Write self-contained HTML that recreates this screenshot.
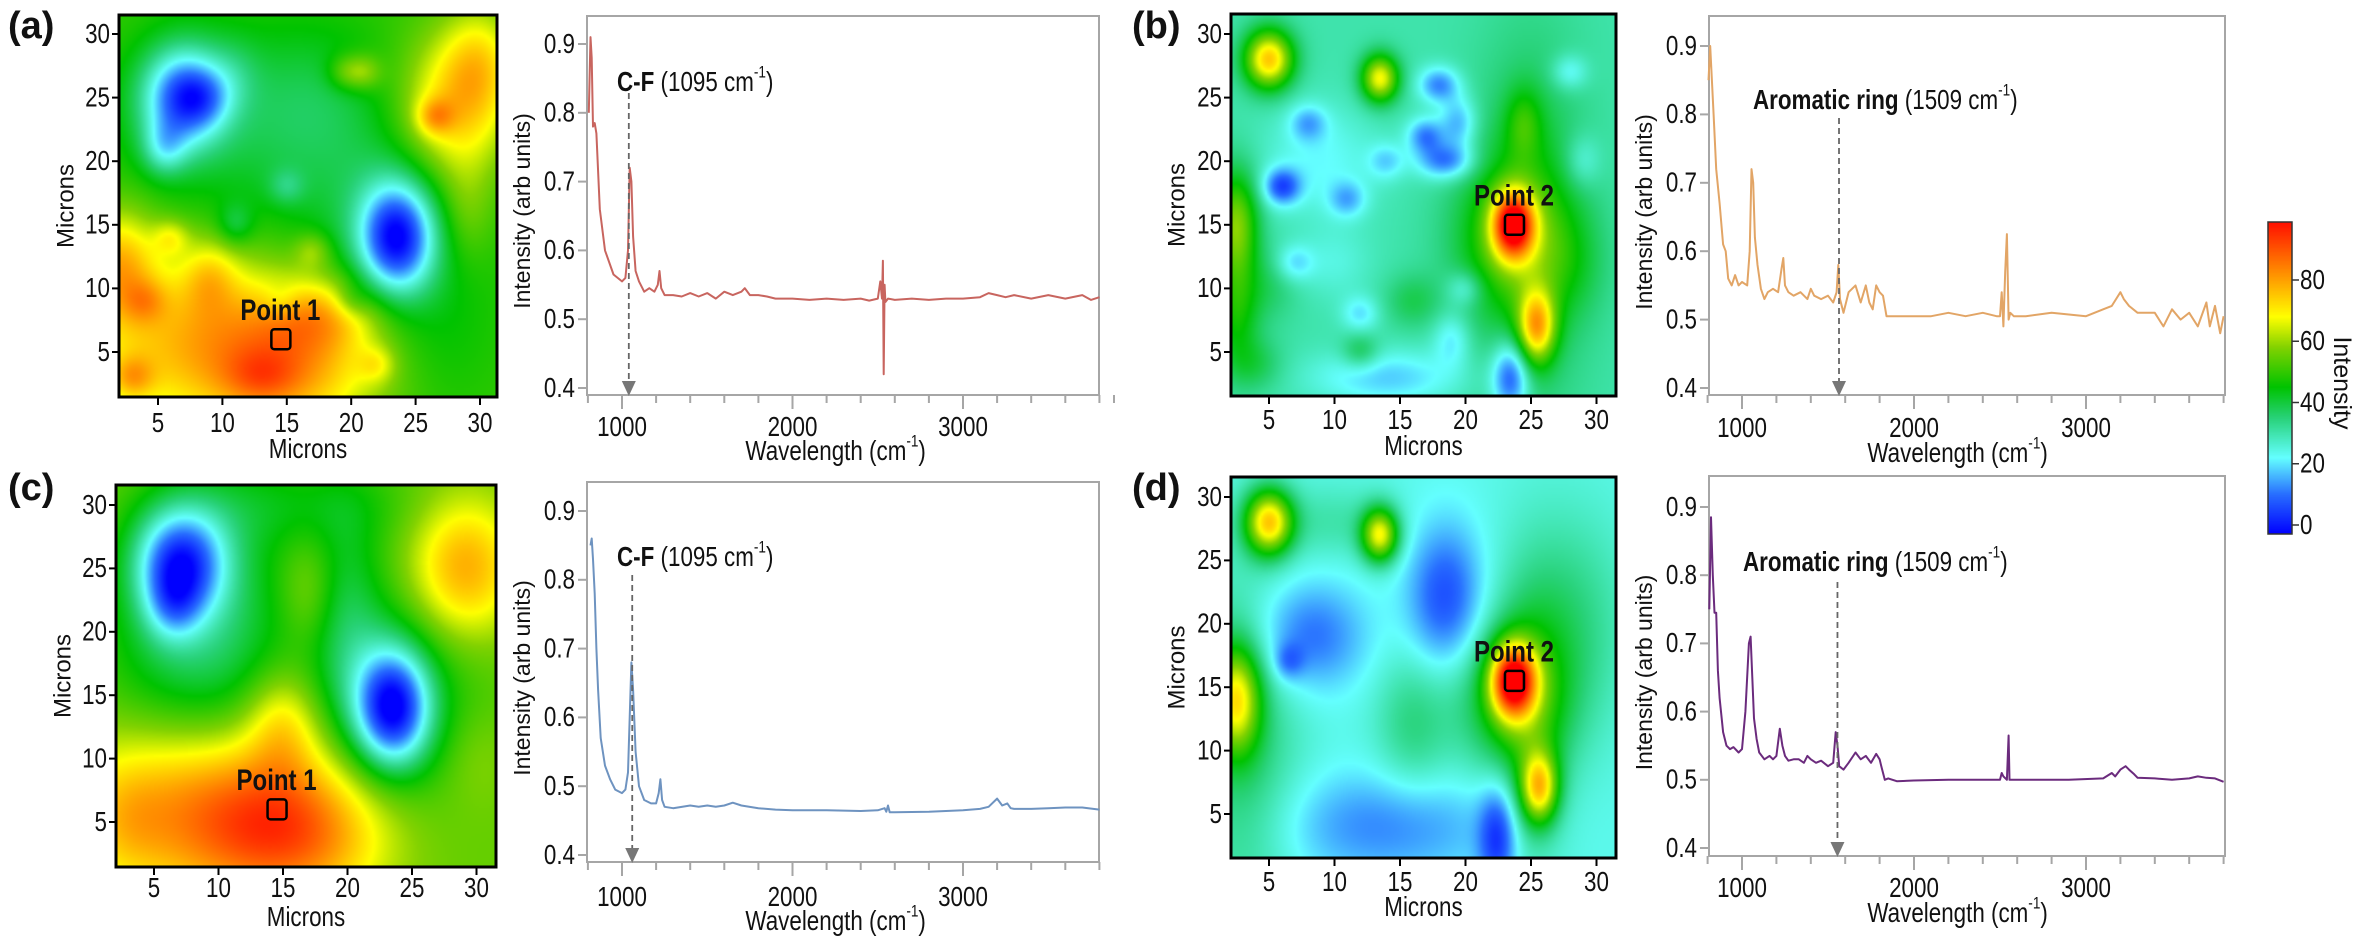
<!DOCTYPE html>
<html><head><meta charset="utf-8">
<style>
html,body{margin:0;padding:0;background:#fff;}
#root{position:relative;width:2361px;height:943px;overflow:hidden;background:#fff;}
canvas{position:absolute;}
svg{position:absolute;left:0;top:0;}
.n{font-family:"Liberation Sans",Arial,sans-serif;}
.r{font-family:"Liberation Sans",Arial,sans-serif;}
</style></head>
<body>
<div id="root">
<canvas id="hmA"></canvas>
<canvas id="hmB"></canvas>
<canvas id="hmC"></canvas>
<canvas id="hmD"></canvas>
<canvas id="cbar"></canvas>
<svg id="ov" width="2361" height="943"></svg>
</div>
<script>
// ---------- spectra data ----------
const wnA=[805,815,822,830,840,850,870,900,950,1000,1020,1035,1045,1055,1065,1080,1100,1130,1160,1190,1210,1220,1230,1250,1300,1350,1400,1450,1500,1550,1600,1650,1700,1720,1750,1800,1850,1900,2000,2100,2200,2300,2400,2450,2500,2515,2525,2530,2535,2540,2545,2560,2600,2700,2800,2900,3000,3100,3150,3200,3250,3300,3400,3500,3600,3700,3750,3800];
const valA=[0.80,0.91,0.88,0.78,0.785,0.77,0.66,0.6,0.565,0.555,0.56,0.6,0.72,0.70,0.62,0.57,0.555,0.54,0.545,0.54,0.55,0.57,0.545,0.535,0.535,0.533,0.538,0.533,0.538,0.53,0.54,0.535,0.54,0.545,0.535,0.535,0.533,0.53,0.53,0.528,0.53,0.528,0.53,0.527,0.53,0.555,0.53,0.585,0.42,0.55,0.525,0.53,0.528,0.53,0.528,0.53,0.53,0.532,0.538,0.535,0.532,0.535,0.53,0.535,0.53,0.535,0.528,0.532];
const wnB=[805,815,825,835,850,870,890,905,920,940,960,980,1000,1030,1045,1055,1065,1075,1090,1110,1130,1150,1180,1210,1230,1240,1250,1270,1300,1340,1380,1400,1420,1460,1500,1530,1550,1560,1570,1590,1620,1660,1690,1720,1740,1760,1780,1800,1820,1840,1900,2000,2100,2200,2300,2400,2480,2500,2510,2520,2530,2540,2550,2560,2580,2650,2800,3000,3100,3150,3200,3220,3250,3300,3400,3450,3500,3550,3600,3650,3700,3720,3750,3780,3800];
const valB=[0.85,0.90,0.85,0.80,0.72,0.67,0.61,0.6,0.56,0.55,0.565,0.55,0.555,0.55,0.6,0.72,0.70,0.62,0.58,0.545,0.53,0.54,0.545,0.54,0.575,0.59,0.55,0.54,0.535,0.54,0.53,0.545,0.535,0.53,0.535,0.525,0.54,0.58,0.53,0.51,0.54,0.55,0.525,0.55,0.525,0.515,0.55,0.54,0.535,0.505,0.505,0.505,0.505,0.51,0.505,0.51,0.505,0.505,0.54,0.49,0.57,0.625,0.5,0.51,0.505,0.505,0.51,0.505,0.515,0.52,0.54,0.53,0.52,0.51,0.51,0.49,0.515,0.5,0.51,0.49,0.525,0.49,0.52,0.48,0.505];
const wnC=[815,822,830,840,850,860,875,900,930,960,1000,1020,1035,1045,1055,1065,1080,1100,1130,1170,1200,1215,1225,1235,1250,1300,1400,1450,1500,1550,1600,1650,1700,1800,1900,2000,2200,2400,2500,2540,2550,2560,2570,2600,2800,3000,3100,3150,3200,3230,3260,3280,3300,3400,3500,3600,3700,3800];
const valC=[0.85,0.86,0.83,0.78,0.70,0.64,0.57,0.53,0.51,0.495,0.49,0.495,0.52,0.6,0.68,0.64,0.55,0.5,0.48,0.475,0.475,0.49,0.51,0.48,0.47,0.468,0.472,0.47,0.472,0.47,0.472,0.476,0.472,0.468,0.466,0.465,0.465,0.464,0.465,0.468,0.463,0.472,0.462,0.462,0.463,0.465,0.467,0.47,0.482,0.472,0.475,0.468,0.467,0.467,0.468,0.469,0.469,0.466];
const wnD=[810,820,830,840,850,860,870,890,910,930,950,980,1000,1020,1040,1050,1060,1070,1085,1100,1130,1160,1180,1200,1220,1235,1250,1270,1300,1330,1360,1380,1400,1430,1460,1500,1530,1545,1555,1565,1590,1620,1660,1690,1720,1750,1780,1800,1810,1830,1850,1900,2000,2200,2400,2500,2510,2520,2540,2550,2555,2560,2580,2700,2900,3100,3150,3170,3200,3230,3250,3280,3300,3400,3500,3600,3650,3700,3750,3800];
const valD=[0.75,0.885,0.80,0.745,0.745,0.66,0.62,0.57,0.55,0.545,0.548,0.54,0.545,0.6,0.7,0.71,0.65,0.59,0.56,0.54,0.53,0.535,0.53,0.535,0.575,0.55,0.535,0.528,0.53,0.53,0.525,0.535,0.53,0.525,0.528,0.52,0.525,0.57,0.55,0.52,0.515,0.525,0.54,0.53,0.535,0.525,0.538,0.53,0.52,0.5,0.502,0.498,0.499,0.5,0.5,0.5,0.51,0.505,0.5,0.565,0.5,0.5,0.5,0.5,0.5,0.502,0.51,0.505,0.515,0.52,0.515,0.508,0.503,0.502,0.5,0.502,0.505,0.503,0.502,0.497];
const yTicks=[0.4,0.5,0.6,0.7,0.8,0.9];
const yTickLabels=["0.4","0.5","0.6","0.7","0.8","0.9"];
const xTicks=[1000,2000,3000];
const xTickLabels=["1000","2000","3000"];
const micTicks=[5,10,15,20,25,30];
const cbTicks=[0,20,40,60,80];
// heatmap blobs: [x, y, sx, sy, amplitude]
const blobsA=[[7,25,2.3,2.8,-40],[8.5,25,1.5,1.5,-10],[5.5,21,1.2,1.5,-15],[23.5,14,2,3,-45],[23,14,5,6.5,-10],[12,22,7,6,-8],[17,25,4,4,-6],[8,6,7,5,25],[16,4,5,4,22],[2,12,2,3,22],[18,8,3,2,15],[13,3,2,1.5,10],[28,24,3,4,25],[26.5,23.5,1,1,15],[30,28,2,3,15],[27,5,3,4,-3],[9,11,1.5,2,12],[4,9,1.2,1.2,10],[20,9,1,1,-8],[14.5,9,1,1,-6],[29,16,1.5,3,8],[19.5,27,1,1,10],[11,27,1.5,2,-5],[6,14,1,1,12],[11,15,1,1.2,-10],[15,18,1,1,-8],[21,27,1,1,12],[17,13,1,1,10],[3,3,1.2,1.2,15],[22,4,1,1,10]];
const blobsB=[[2.5,15,1.2,3,28],[2.5,8,1.2,3,15],[5,28,1.3,1.6,45],[13.5,26.5,1,1.3,38],[23.7,15,1.1,1.8,58],[23.5,14,3,4,18],[25.5,7,1,2,40],[25,15,3,10,12],[24.5,23,1,2,12],[6,18,1,1,-22],[18.5,20,1.5,1,-20],[18,26,1.1,1,-18],[17,22,1,1,-18],[19.5,23,1,1.5,-15],[23.5,3,1,2,-25],[9,20,3,3,-8],[14,3,4,1.5,-12],[10,12,2,2,-5],[4,4,1.5,1.5,8],[16,9,1.5,1.5,8],[28,12,2,3,6],[8,23,1,1,-12],[11,17,1,1,-12],[12,8,1,1,-10],[7,12,1,1,-10],[14,20,1,1,-10],[20,10,1,1,-10],[28,27,1,1,-10],[29,20,1,1.5,-8],[12,5,1,1,10],[19,6,1,1.5,-10],[5,10,1.5,2,6]];
const blobsC=[[7,25.5,2.5,3,-45],[6.5,22,1.5,2,-15],[23.5,14,2,3.2,-48],[23,14,5,7,-15],[10,20,4,8,-15],[5,18,4,5,-8],[16,30,7,2.5,-8],[20,22,2,6,-10],[10,6,8,5,30],[16,4,5,4,20],[15,13,2,3,15],[29,25,3,4,25],[30,10,2,3,5],[3,5,2,3,5],[17,23,1.5,3,8]];
const blobsD=[[2.5,14,1.3,3,38],[5,28,1.3,1.8,48],[13.5,27,1,1.5,42],[23.7,15.5,1.2,2,62],[23.5,14,3,4,20],[25.7,7,1,2,42],[25,12,2,8,12],[8,19,3,3,-15],[18.5,22,2,4,-18],[14,4,6,3,-12],[22.5,3,1,3,-20],[6.5,17,0.8,1,-10],[3,10,3,10,12],[16,12,2,4,10],[28,20,3,6,10],[10,28,3,2,6]];
const baseA=50, baseB=30, baseC=55, baseD=24;

// ---------- helpers ----------
const NS="http://www.w3.org/2000/svg";
const ov=document.getElementById('ov');
const SQ=0.8;
function mk(tag,attrs,parent){const e=document.createElementNS(NS,tag);for(const k in attrs)e.setAttribute(k,attrs[k]);(parent||ov).appendChild(e);return e;}
function txt(s,x,y,cls,size,anchor,parent,extra){
  const a=Object.assign({x:x,y:y,'font-size':size,'text-anchor':anchor||'middle','dominant-baseline':'central',class:cls,fill:'#111'},extra||{});
  if(cls==='n'&&!a.transform){a.x=0;a.y=0;a.transform='translate('+x+','+y+') scale('+SQ+',1)';}
  const t=mk('text',a,parent);t.textContent=s;return t;}

const cstops=[[-3,[0,0,255]],[10,[40,110,255]],[22,[100,255,255]],[35,[40,210,120]],[45,[0,195,0]],[58,[130,210,0]],[68,[255,255,0]],[80,[255,160,0]],[101,[255,0,0]]];
function cmap(v){if(v<=cstops[0][0])return cstops[0][1];for(let i=1;i<cstops.length;i++){if(v<=cstops[i][0]){const a=cstops[i-1],b=cstops[i];const t=(v-a[0])/(b[0]-a[0]);return [0,1,2].map(k=>Math.round(a[1][k]+(b[1][k]-a[1][k])*t));}}return cstops[cstops.length-1][1];}

function heatmap(id,L,T,R,B,x5,pxx,y30,pxy,base,blobs,name,lblYs,point){
  const cv=document.getElementById(id);
  const W=Math.round((R-L)/2),H=Math.round((B-T)/2);
  cv.width=W;cv.height=H;cv.style.left=L+'px';cv.style.top=T+'px';cv.style.width=(R-L)+'px';cv.style.height=(B-T)+'px';
  const ctx=cv.getContext('2d');const img=ctx.createImageData(W,H);
  const sx=px=>5+(px-x5)/pxx, sy=py=>30-(py-y30)/pxy;
  for(let j=0;j<H;j++)for(let i=0;i<W;i++){
    const mx=sx(L+i*2+1),my=sy(T+j*2+1);let v=base;
    for(const b of blobs){const dx=(mx-b[0])/b[2],dy=(my-b[1])/b[3];v+=b[4]*Math.exp(-0.5*(dx*dx+dy*dy));}
    const c=cmap(v);const o=(j*W+i)*4;img.data[o]=c[0];img.data[o+1]=c[1];img.data[o+2]=c[2];img.data[o+3]=255;}
  ctx.putImageData(img,0,0);
  const g=mk('g',{});
  
  
  mk('rect',{x:L,y:T,width:R-L,height:B-T,fill:'none',stroke:'#000','stroke-width':3},g);
  for(const t of micTicks){
    const X=x5+(t-5)*pxx;mk('line',{x1:X,y1:B,x2:X,y2:B+8,stroke:'#000','stroke-width':2},g);
    txt(String(t),X,lblYs[0],'n',28,'middle',g);
    const Y=y30+(30-t)*pxy;mk('line',{x1:L-7,y1:Y,x2:L,y2:Y,stroke:'#000','stroke-width':2},g);
    txt(String(t),L-9,Y,'n',28,'end',g);
  }
  txt('Microns',(L+R)/2,lblYs[1],'n',28,'middle',g);
  txt('Microns',0,0,'r',24,'middle',g,{transform:'translate('+lblYs[2]+','+((T+B)/2)+') rotate(-90)'});
  const px=x5+(point[0]-5)*pxx, py=y30+(30-point[1])*pxy;
  const pr=mk('rect',{x:px-9,y:py-10,width:19,height:20,rx:3,fill:'none',stroke:'#000','stroke-width':2.5},g);
  
  
  const pl=txt(point[2],px,py-30,'n',30,'middle',g);
  pl.setAttribute('font-weight','bold');
  
  
}

function spectrum(L,T,R,B,x1000,per1000,y09,y04,wn,val,color,name,ann,labYs,extraTick){
  const X=w=>x1000+(w-1000)/1000*per1000;
  const Y=v=>y04+(v-0.4)/0.5*(y09-y04);
  const g=mk('g',{});
  
  
  mk('rect',{x:L,y:T,width:R-L,height:B-T,fill:'none',stroke:'#a6a6a6','stroke-width':2},g);
  yTicks.forEach((t,i)=>{const yy=Y(t);mk('line',{x1:L-9,y1:yy,x2:L,y2:yy,stroke:'#a6a6a6','stroke-width':2},g);txt(yTickLabels[i],L-12,yy,'n',28,'end',g);});
  for(let w=800;w<=3800;w+=200){const xx=X(w);const maj=(w%1000===0);mk('line',{x1:xx,y1:B,x2:xx,y2:B+(maj?14:8),stroke:'#a6a6a6','stroke-width':2},g);}
  if(extraTick){mk('line',{x1:R+15,y1:B,x2:R+15,y2:B+8,stroke:'#a6a6a6','stroke-width':2},g);}
  xTicks.forEach((t,i)=>txt(xTickLabels[i],X(t),labYs[0],'n',28,'middle',g));
  const wl=txt('Wavelength (cm',X(2300)-8,labYs[1],'n',28,'middle',g);
  const sup=mk('tspan',{'font-size':17,dy:-10},wl);sup.textContent='-1';
  const cl=mk('tspan',{dy:10},wl);cl.textContent=')';
  txt('Intensity (arb units)',0,0,'r',23,'middle',g,{transform:'translate('+(L-65)+','+((Y(0.4)+Y(0.9))/2-5)+') rotate(-90)'});
  let d='';const n=Math.min(wn.length,val.length);
  for(let i=0;i<n;i++)d+=(i?'L':'M')+X(wn[i]).toFixed(1)+','+Y(val[i]).toFixed(1);
  const p=mk('path',{d:d,fill:'none',stroke:color,'stroke-width':2,'stroke-linejoin':'round'},g);
  
  
  const ax=X(ann.wn);
  const dl=mk('line',{x1:ax,y1:ann.y0,x2:ax,y2:B-12,stroke:'#666','stroke-width':1.8,'stroke-dasharray':'6,4'},g);
  
  
  mk('polygon',{points:(ax-7)+','+(B-14)+' '+(ax+7)+','+(B-14)+' '+ax+','+(B+1),fill:'#777'},g);
  const at=mk('text',{x:0,y:0,transform:'translate('+ann.x+','+ann.ty+') scale('+SQ+',1)','font-size':28,'dominant-baseline':'central',class:'n',fill:'#111'},g);
  
  
  const b1=mk('tspan',{'font-weight':'bold'},at);b1.textContent=ann.bold;
  const b2=mk('tspan',{},at);b2.textContent=' ('+ann.num+' cm';
  const b3=mk('tspan',{'font-size':17,dy:-10},at);b3.textContent='-1';
  const b4=mk('tspan',{dy:10},at);b4.textContent=')';
}

// ---------- draw ----------
heatmap('hmA',119,15,497,397,158,12.88,34,12.72,baseA,blobsA,'heatmap-a',[423,449,66],[14.5,6,'Point 1']);
heatmap('hmB',1231,14,1616,396,1269,13.1,34,12.72,baseB,blobsB,'heatmap-b',[420,446,1177],[23.7,15,'Point 2']);
heatmap('hmC',116,485,496,867,154,12.9,505,12.68,baseC,blobsC,'heatmap-c',[888,917,63],[14.5,6,'Point 1']);
heatmap('hmD',1231,477,1616,858,1269,13.1,497,12.68,baseD,blobsD,'heatmap-d',[882,907,1177],[23.7,15.5,'Point 2']);

spectrum(587,16,1099,395,622,170.5,44,388,wnA,valA,'#c8655f','spectrum-a',{wn:1040,y0:93,x:617,ty:82,bold:'C-F',num:'1095'},[427,451],true);
spectrum(1709,16,2225,395,1742,172,46,388,wnB,valB,'#e2a566','spectrum-b',{wn:1564,y0:118,x:1753,ty:100,bold:'Aromatic ring',num:'1509'},[428,453],false);
spectrum(587,482,1099,862,622,170.5,511,855,wnC,valC,'#6e93c0','spectrum-c',{wn:1060,y0:575,x:617,ty:557,bold:'C-F',num:'1095'},[897,921],false);
spectrum(1709,476,2225,856,1742,172,507,848,wnD,valD,'#6b2b7d','spectrum-d',{wn:1555,y0:582,x:1743,ty:562,bold:'Aromatic ring',num:'1509'},[888,913],false);

[['(a)',8,26],['(b)',1132,26],['(c)',8,488],['(d)',1132,488]].forEach(p=>{
  const t=txt(p[0],p[1],p[2],'r',38,'start',null,{'font-weight':'bold'});
  
  
});

(function(){
  const L=2268,T=222,R=2292,B=534;const cv=document.getElementById('cbar');
  cv.width=1;cv.height=B-T;cv.style.left=L+'px';cv.style.top=T+'px';cv.style.width=(R-L)+'px';cv.style.height=(B-T)+'px';
  const ctx=cv.getContext('2d');const Yv=y=>(525-y)/(525-280)*80;
  for(let j=0;j<B-T;j++){const c=cmap(Yv(T+j+0.5));ctx.fillStyle='rgb('+c.join(',')+')';ctx.fillRect(0,j,1,1);}
  const g=mk('g',{});
  
  
  mk('rect',{x:L,y:T,width:R-L,height:B-T,fill:'none',stroke:'#333','stroke-width':1.5},g);
  cbTicks.forEach(t=>{const yy=525-t/80*(525-280);mk('line',{x1:R,y1:yy,x2:R+7,y2:yy,stroke:'#333','stroke-width':1.5},g);txt(String(t),R+8,yy,'n',28,'start',g);});
  txt('Intensity',0,0,'r',25,'middle',g,{transform:'translate(2342,383) rotate(90)'});
})();
</script>
</body></html>
